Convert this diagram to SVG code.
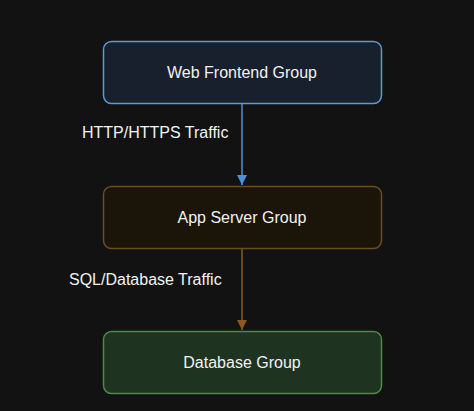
<svg xmlns="http://www.w3.org/2000/svg" width="474" height="411" viewBox="0 0 474 411">
<style>
  text { font-family: "Liberation Sans", Arial, sans-serif; font-size: 16px; fill: #f2f2f2; }
  .node text { text-anchor: middle; dominant-baseline: central; }
  .edge { fill: none; stroke-width: 1.5; }
</style>
<defs>
  <marker id="arrBlue" viewBox="0 0 10 10" refX="10" refY="5" markerWidth="10" markerHeight="10" markerUnits="userSpaceOnUse" orient="auto">
    <path d="M0,0 L10,5 L0,10 z" fill="#4a90e2"/>
  </marker>
  <marker id="arrBrown" viewBox="0 0 10 10" refX="10" refY="5" markerWidth="10" markerHeight="10" markerUnits="userSpaceOnUse" orient="auto">
    <path d="M0,0 L10,5 L0,10 z" fill="#8b5a1a"/>
  </marker>
</defs>
<rect width="474" height="411" fill="#121212"/>
<g id="connectors">
  <line class="edge" x1="242" y1="103" x2="242" y2="185" stroke="#4a90e2" marker-end="url(#arrBlue)"/>
  <line class="edge" x1="242" y1="249" x2="242" y2="330" stroke="#8b5a1a" marker-end="url(#arrBrown)"/>
  <text x="82" y="138">HTTP/HTTPS Traffic</text>
  <text x="69" y="285">SQL/Database Traffic</text>
</g>
<g id="web" class="node">
  <rect x="103.5" y="41.5" width="278" height="62" rx="8" fill="#17202c" stroke="#5a9ad8" stroke-width="1.5"/>
  <text x="242" y="72">Web Frontend Group</text>
</g>
<g id="app" class="node">
  <rect x="103.5" y="186.5" width="278" height="62" rx="8" fill="#1a1409" stroke="#6b4e1c" stroke-width="1.5"/>
  <text x="242" y="217">App Server Group</text>
</g>
<g id="db" class="node">
  <rect x="103.5" y="331.5" width="278" height="62" rx="8" fill="#1e3320" stroke="#4f8a45" stroke-width="1.5"/>
  <text x="242" y="362">Database Group</text>
</g>
</svg>
